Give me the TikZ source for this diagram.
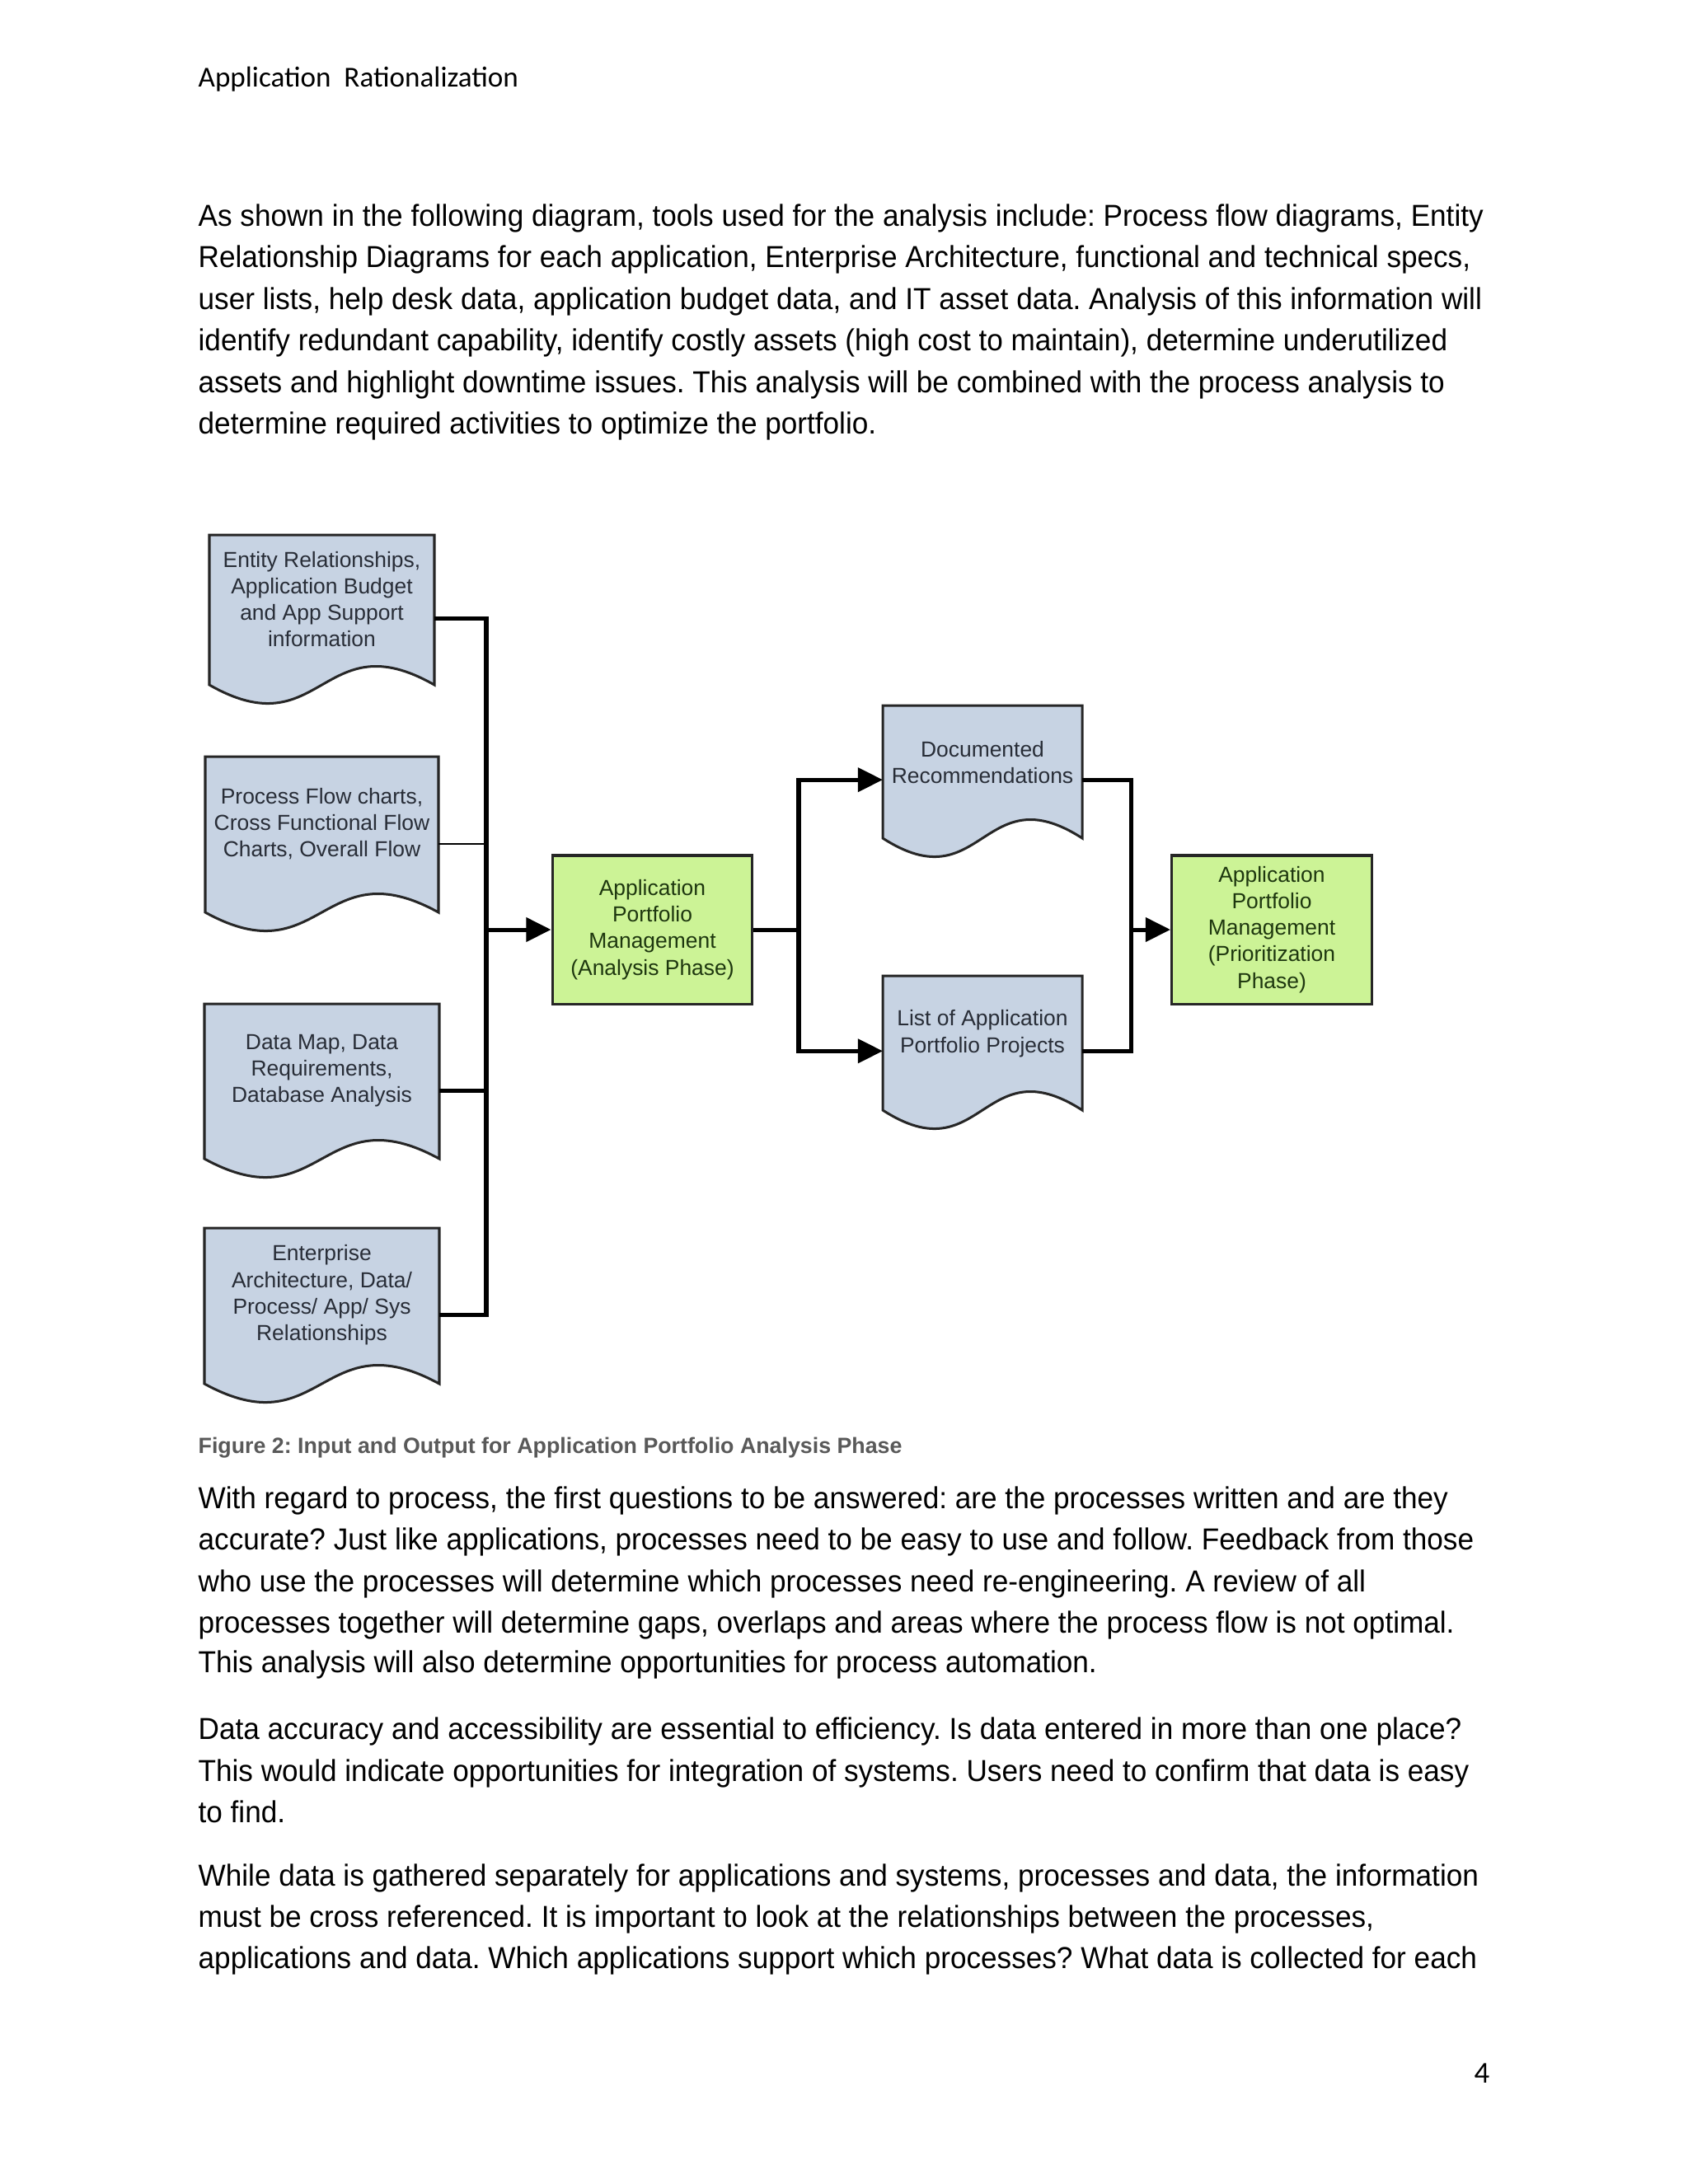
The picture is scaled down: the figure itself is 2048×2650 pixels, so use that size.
\documentclass[tikz,border=0pt]{standalone}
\usepackage{fontspec}
\setmainfont[FakeStretch=0.955]{Liberation Sans}
\newfontfamily\hdrfont{Carlito}
\newfontfamily\figfont{Liberation Sans}
\usetikzlibrary{arrows.meta, positioning}
\frenchspacing

\definecolor{docblue}{RGB}{199,211,227}
\definecolor{apmgreen}{RGB}{204,243,150}
\definecolor{doctext}{RGB}{40,45,55}
\definecolor{apmtext}{RGB}{30,55,15}
\definecolor{capgrey}{RGB}{89,89,89}

\tikzset{
  docline/.style={draw=black!85, line width=0.9pt, fill=docblue},
  doctxt/.style={align=center, font=\figfont\fontsize{7.9}{9.6}\selectfont, text=doctext, inner sep=0pt},
  apm/.style={draw=black!85, line width=0.9pt, fill=apmgreen, align=center,
    font=\figfont\fontsize{7.9}{9.6}\selectfont, text=apmtext,
    minimum width=72.6pt, minimum height=53.8pt, inner sep=0pt},
  bus/.style={line width=1.5pt, black},
  thinbus/.style={line width=0.6pt, black},
  arr/.style={-{Triangle[length=9pt, width=8.6pt]}},
  body/.style={anchor=base west, inner sep=0pt, font=\fontsize{11}{13}\selectfont},
}

% document shape: name, left, top, width, height, text
\newcommand{\docshape}[6]{%
  \draw[docline] (#2,#3) -- ({#2+#4},#3) -- ({#2+#4},{#3+#5})
    .. controls ({#2+0.5*#4},{#3+#5-78}) and ({#2+0.5*#4},{#3+#5+78}) .. (#2,{#3+#5}) -- cycle;
  \node[doctxt] (#1) at ({#2+0.5*#4},{#3+0.43*#5}) {#6};
  \coordinate (#1-w) at (#2,{#3+0.56*#5});
  \coordinate (#1-e) at ({#2+#4},{#3+0.56*#5});
}

\begin{document}
\begin{tikzpicture}[x=0.29883pt, y=-0.29883pt]
  \useasboundingbox (0,0) rectangle (2048,2650);
  \fill[white] (0,0) rectangle (2048,2650);

  % page text
  \node[anchor=base west, inner sep=0pt, font=\hdrfont\fontsize{10.5}{13}\selectfont] (hdr) at (240,105) {Application~ Rationalization};

  \node[body] (p1a) at (240,274) {As shown in the following diagram, tools used for the analysis include: Process flow diagrams, Entity};
  \node[body] (p1b) at (240,324) {Relationship Diagrams for each application, Enterprise Architecture, functional and technical specs,};
  \node[body] (p1c) at (240,375) {user lists, help desk data, application budget data, and IT asset data. Analysis of this information will};
  \node[body] (p1d) at (240,425) {identify redundant capability, identify costly assets (high cost to maintain), determine underutilized};
  \node[body] (p1e) at (240,476) {assets and highlight downtime issues. This analysis will be combined with the process analysis to};
  \node[body] (p1f) at (240,526) {determine required activities to optimize the portfolio.};

  % inputs
  \docshape{er}{254}{649}{273}{182}{Entity Relationships,\\Application Budget\\and App Support\\information}
  \docshape{pf}{249}{918}{283}{189}{Process Flow charts,\\Cross Functional Flow\\Charts, Overall Flow}
  \docshape{dm}{248}{1218}{285}{188}{Data Map, Data\\Requirements,\\Database Analysis}
  \docshape{ea}{248}{1490}{285}{189}{Enterprise\\Architecture, Data/\\Process/ App/ Sys\\Relationships}

  % outputs
  \docshape{rec}{1071}{856}{242}{161}{Documented\\Recommendations}
  \docshape{lst}{1071}{1184}{242}{163}{List of Application\\Portfolio Projects}

  \node[apm] (apm1) at (791.5,1128) {Application\\Portfolio\\Management\\(Analysis Phase)};
  \node[apm] (apm2) at (1543,1128) {Application\\Portfolio\\Management\\(Prioritization\\Phase)};

  \coordinate (busx) at (590,0);
  \coordinate (splitx) at (969,0);
  \coordinate (joinx) at (1372,0);

  % connectors
  \draw[bus] (er-e) -- (er-e -| busx) |- (ea-e);
  \draw[thinbus] (pf-e) -- (pf-e -| busx);
  \draw[bus] (dm-e) -- (dm-e -| busx);
  \draw[bus, arr] (apm1.west -| busx) -- (apm1.west);

  \draw[bus] (apm1.east) -- (apm1.east -| splitx);
  \draw[bus, arr] (apm1.east -| splitx) |- (rec-w);
  \draw[bus, arr] (apm1.east -| splitx) |- (lst-w);

  \draw[bus] (rec-e) -| (lst-e -| joinx) -- (lst-e);
  \draw[bus, arr] (apm2.west -| joinx) -- (apm2.west);

  \node[anchor=base west, inner sep=0pt, text=capgrey, font=\figfont\bfseries\fontsize{8}{10}\selectfont] (cap) at (240,1763) {Figure 2: Input and Output for Application Portfolio Analysis Phase};

  \node[body] (p2a) at (240,1830) {With regard to process, the first questions to be answered: are the processes written and are they};
  \node[body] (p2b) at (240,1880) {accurate? Just like applications, processes need to be easy to use and follow. Feedback from those};
  \node[body] (p2c) at (240,1931) {who use the processes will determine which processes need re-engineering. A review of all};
  \node[body] (p2d) at (240,1981) {processes together will determine gaps, overlaps and areas where the process flow is not optimal.};
  \node[body] (p2e) at (240,2029) {This analysis will also determine opportunities for process automation.};

  \node[body] (p3a) at (240,2110) {Data accuracy and accessibility are essential to efficiency. Is data entered in more than one place?};
  \node[body] (p3b) at (240,2161) {This would indicate opportunities for integration of systems. Users need to confirm that data is easy};
  \node[body] (p3c) at (240,2211) {to find.};

  \node[body] (p4a) at (240,2288) {While data is gathered separately for applications and systems, processes and data, the information};
  \node[body] (p4b) at (240,2338) {must be cross referenced. It is important to look at the relationships between the processes,};
  \node[body] (p4c) at (240,2388) {applications and data. Which applications support which processes? What data is collected for each};

  \node[anchor=base east, inner sep=0pt, font=\hdrfont\fontsize{11}{13}\selectfont] (pgno) at (1808,2527) {4};
\end{tikzpicture}
\end{document}
